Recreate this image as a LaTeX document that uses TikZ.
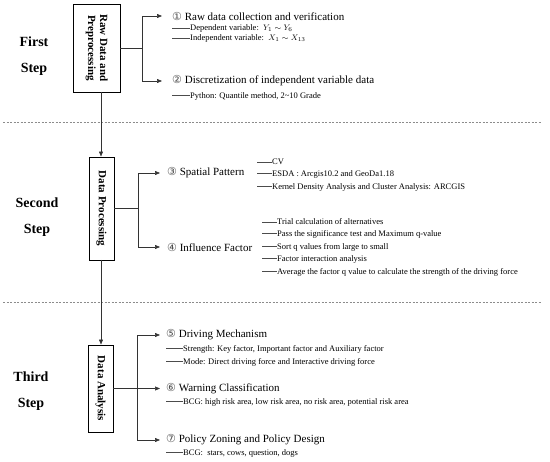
\documentclass[tikz,border=0pt]{standalone}
\usepackage{fontspec}
\setmainfont{Liberation Serif}
\newfontfamily\circfont{DejaVu Sans}
\usetikzlibrary{arrows.meta}
\newcommand{\cdig}[1]{\textcolor{black!70}{\circfont #1}}
\newcommand{\dl}[1]{{\color{black!70}\rule[2.4pt]{#1}{0.5pt}}}
\begin{document}
\begin{tikzpicture}[x=1pt,y=-1pt,
  box/.style={draw, line width=0.9pt, inner sep=0pt, font=\fontsize{11}{12}\selectfont\rmfamily\bfseries},
  steplbl/.style={font=\fontsize{14}{26}\selectfont\rmfamily\bfseries, align=center, inner sep=0pt},
  head/.style={anchor=west, inner sep=0pt, font=\fontsize{11}{13}\selectfont\rmfamily},
  sub/.style={anchor=west, inner sep=0pt, font=\fontsize{8.5}{10}\selectfont\rmfamily},
  conn/.style={line width=0.6pt, draw=black!80},
  arr/.style={conn, -{Triangle[length=5pt,width=4pt]}},
  sep/.style={draw=black!45, line width=0.5pt, dash pattern=on 2pt off 1.5pt}]
\useasboundingbox (0,0) rectangle (550,462);

% separators
\coordinate (s1a) at (3,122); \coordinate (s1b) at (541,122);
\coordinate (s2a) at (3,302); \coordinate (s2b) at (541,302);
\draw[sep] (s1a) -- (s1b);
\draw[sep] (s2a) -- (s2b);

% step labels
\node[steplbl] (st1) at (34,56) {First\\Step};
\node[steplbl] (st2) at (37,217) {Second\\Step};
\node[steplbl] (st3) at (31,391) {Third\\Step};

% boxes
\node[box, minimum width=47pt, minimum height=88pt] (b1) at (96.5,48)
  {\rotatebox{-90}{\begin{tabular}{@{}c@{}}Raw Data and\\Preprocessing\end{tabular}}};
\node[box, minimum width=25pt, minimum height=103pt] (b2) at (101.5,208.5)
  {\rotatebox{-90}{Data Processing}};
\node[box, minimum width=25pt, minimum height=87pt] (b3) at (100.5,388.5)
  {\rotatebox{-90}{Data Analysis}};

\coordinate (v1) at (101,92);
\draw[arr] (v1) -- (v1 |- b2.north);
\coordinate (v2) at (101,260);
\draw[arr] (v2) -- (v2 |- b3.north);

% ---- first step
\node[head] (h1) at (172,16) {\cdig{①} Raw data collection and verification};
\node[sub] (h1a) at (172,28.5) {\dl{18pt}Dependent variable:\enspace $Y_1 \sim Y_6$};
\node[sub] (h1b) at (172,38.5) {\dl{18pt}Independent variable:\enspace $X_1 \sim X_{13}$};
\node[head] (h2) at (172,81) {\cdig{②} Discretization of independent variable data};
\node[sub] (h2a) at (172,96) {\dl{18pt}Python: Quantile method, 2\textasciitilde 10 Grade};
\coordinate (j1) at (142,48);
\draw[conn] (b1.east |- j1) -- (j1);
\draw[arr] (j1) |- ([xshift=-10pt]h1.west);
\draw[arr] (j1) |- ([xshift=-10pt]h2.west);

% ---- second step
\node[head] (h3) at (167,173) {\cdig{③} Spatial Pattern};
\node[sub] (h3a) at (257,162) {\dl{15pt}CV};
\node[sub] (h3b) at (257,174) {\dl{15pt}ESDA : Arcgis10.2 and GeoDa1.18};
\node[sub] (h3c) at (257,187) {\dl{15pt}Kernel Density Analysis and Cluster Analysis: ARCGIS};
\node[head] (h4) at (167,247) {\cdig{④} Influence Factor};
\node[sub] (h4a) at (262,222) {\dl{15pt}Trial calculation of alternatives};
\node[sub] (h4b) at (262,234) {\dl{15pt}Pass the significance test and Maximum q-value};
\node[sub] (h4c) at (262,247) {\dl{15pt}Sort q values from large to small};
\node[sub] (h4d) at (262,259) {\dl{15pt}Factor interaction analysis};
\node[sub] (h4e) at (262,272) {\dl{15pt}Average the factor q value to calculate the strength of the driving force};
\coordinate (j2) at (138,208.5);
\draw[conn] (b2.east) -- (j2);
\draw[arr] (j2) |- ([xshift=-7pt]h3.west);
\draw[arr] (j2) |- ([xshift=-7pt]h4.west);

% ---- third step
\node[head] (h5) at (166,335) {\cdig{⑤} Driving Mechanism};
\node[sub] (h5a) at (166,349) {\dl{17pt}Strength: Key factor, Important factor and Auxiliary factor};
\node[sub] (h5b) at (166,362) {\dl{17pt}Mode: Direct driving force and Interactive driving force};
\node[head] (h6) at (166,388.5) {\cdig{⑥} Warning Classification};
\node[sub] (h6a) at (166,402) {\dl{17pt}BCG: high risk area, low risk area, no risk area, potential risk area};
\node[head] (h7) at (166,440) {\cdig{⑦} Policy Zoning and Policy Design};
\node[sub] (h7a) at (166,453) {\dl{17pt}BCG:\enspace stars, cows, question, dogs};
\coordinate (j3) at (137,388.5);
\draw[conn] (b3.east) -- (j3);
\draw[arr] (j3) |- ([xshift=-6pt]h5.west);
\draw[arr] (j3) -- ([xshift=-6pt]h6.west);
\draw[arr] (j3) |- ([xshift=-6pt]h7.west);
\end{tikzpicture}
\end{document}
